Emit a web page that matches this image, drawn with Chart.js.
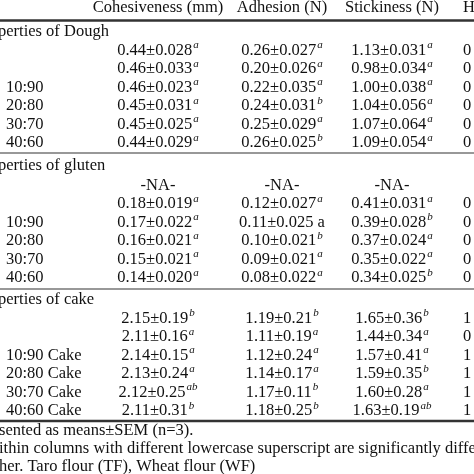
<!DOCTYPE html>
<html><head><meta charset="utf-8">
<script src="https://cdn.jsdelivr.net/npm/chart.js"></script>
<style>html,body{margin:0;padding:0;background:#fff}#c{display:block}</style>
</head><body>
<canvas id="c" width="474" height="474"></canvas>
<script>
const headers = ["Cohesiveness (mm)", "Adhesion (N)", "Stickiness (N)", "H"];
const sections = ["perties of Dough", "perties of gluten", "perties of cake"];
const rowLabels = [
  ["", "", "10:90", "20:80", "30:70", "40:60"],
  ["", "", "10:90", "20:80", "30:70", "40:60"],
  ["", "", "10:90 Cake", "20:80 Cake", "30:70 Cake", "40:60 Cake"]
];
const cohesiveness = [
  ["0.44±0.028^a","0.46±0.033^a","0.46±0.023^a","0.45±0.031^a","0.45±0.025^a","0.44±0.029^a"],
  ["-NA-","0.18±0.019^a","0.17±0.022^a","0.16±0.021^a","0.15±0.021^a","0.14±0.020^a"],
  ["2.15±0.19^b","2.11±0.16^a","2.14±0.15^a","2.13±0.24^a","2.12±0.25^ab","2.11±0.31^b"]
];
const adhesion = [
  ["0.26±0.027^a","0.20±0.026^a","0.22±0.035^a","0.24±0.031^b","0.25±0.029^a","0.26±0.025^b"],
  ["-NA-","0.12±0.027^a","0.11±0.025 a","0.10±0.021^b","0.09±0.021^a","0.08±0.022^a"],
  ["1.19±0.21^b","1.11±0.19^a","1.12±0.24^a","1.14±0.17^a","1.17±0.11^b","1.18±0.25^b"]
];
const stickiness = [
  ["1.13±0.031^a","0.98±0.034^a","1.00±0.038^a","1.04±0.056^a","1.07±0.064^a","1.09±0.054^a"],
  ["-NA-","0.41±0.031^a","0.39±0.028^b","0.37±0.024^a","0.35±0.022^a","0.34±0.025^b"],
  ["1.65±0.36^b","1.44±0.34^a","1.57±0.41^a","1.59±0.35^b","1.60±0.28^a","1.63±0.19^ab"]
];
const hardness = [
  ["0","0","0","0","0","0"],
  ["","0","0","0","0","0"],
  ["1","0","1","1","1","1"]
];
const footnotes = [
  "sented as means±SEM (n=3).",
  "ithin columns with different lowercase superscript are significantly differ-",
  "her. Taro flour (TF), Wheat flour (WF)"
];

const FONT = '"Liberation Serif", "DejaVu Serif", serif';
function drawCell(ctx, s, x, y, align) {
  const [base, sup] = s.split("^");
  ctx.font = "16.5px " + FONT;
  const wb = ctx.measureText(base).width;
  ctx.font = "italic 11px " + FONT;
  const ws = sup ? ctx.measureText(sup).width + 1 : 0;
  let x0 = align === "center" ? x - (wb + ws) / 2 : x;
  ctx.textAlign = "left"; ctx.textBaseline = "middle";
  ctx.font = "16.5px " + FONT; ctx.fillText(base, x0, y);
  if (sup) { ctx.font = "italic 11px " + FONT; ctx.fillText(sup, x0 + wb + 1, y - 5); }
}

const tablePlugin = {
  id: "table",
  afterDraw(chart) {
    const ctx = chart.ctx, X = chart.scales.x, Y = chart.scales.y;
    ctx.save(); ctx.fillStyle = "#111"; ctx.strokeStyle = "#333";
    const colX = [158, 282, 392, 463].map(v => X.getPixelForValue(v));
    headers.forEach((h, i) => drawCell(ctx, h, colX[i], Y.getPixelForValue(8), i === 3 ? "left" : "center"));
    const rule = (v, w) => { ctx.lineWidth = w; ctx.beginPath(); ctx.moveTo(0, Y.getPixelForValue(v)); ctx.lineTo(474, Y.getPixelForValue(v)); ctx.stroke(); };
    const sectionTop = [20.5, 153, 289], sectionY = [32, 166, 300];
    const cols = [cohesiveness, adhesion, stickiness, hardness];
    for (let s = 0; s < 3; s++) {
      if (s === 0) rule(sectionTop[s], 2.5); else rule(sectionTop[s], 1.2);
      drawCell(ctx, sections[s], X.getPixelForValue(-2), Y.getPixelForValue(sectionY[s]), "left");
      for (let r = 0; r < 6; r++) {
        const yv = Y.getPixelForValue(sectionY[s] + 18.5 * (r + 1) - (s === 1 ? -1 : 0));
        drawCell(ctx, rowLabels[s][r], X.getPixelForValue(6), yv, "left");
        cols.forEach((c, i) => { if (c[s][r]) drawCell(ctx, c[s][r], colX[i], yv, i === 3 ? "left" : "center"); });
      }
    }
    rule(421, 2.5);
    footnotes.forEach((f, i) => drawCell(ctx, f, X.getPixelForValue(-1), Y.getPixelForValue(431 + 18 * i), "left"));
    ctx.restore();
  }
};

new Chart(document.getElementById("c"), {
  type: "scatter",
  data: { datasets: [{ data: [], pointRadius: 0 }] },
  options: {
    responsive: false, animation: false, events: [],
    layout: { padding: 0 },
    plugins: { legend: { display: false }, tooltip: { enabled: false } },
    scales: {
      x: { type: "linear", min: 0, max: 474, display: false },
      y: { type: "linear", min: 0, max: 474, reverse: true, display: false }
    }
  },
  plugins: [tablePlugin]
});
</script>
</body></html>
